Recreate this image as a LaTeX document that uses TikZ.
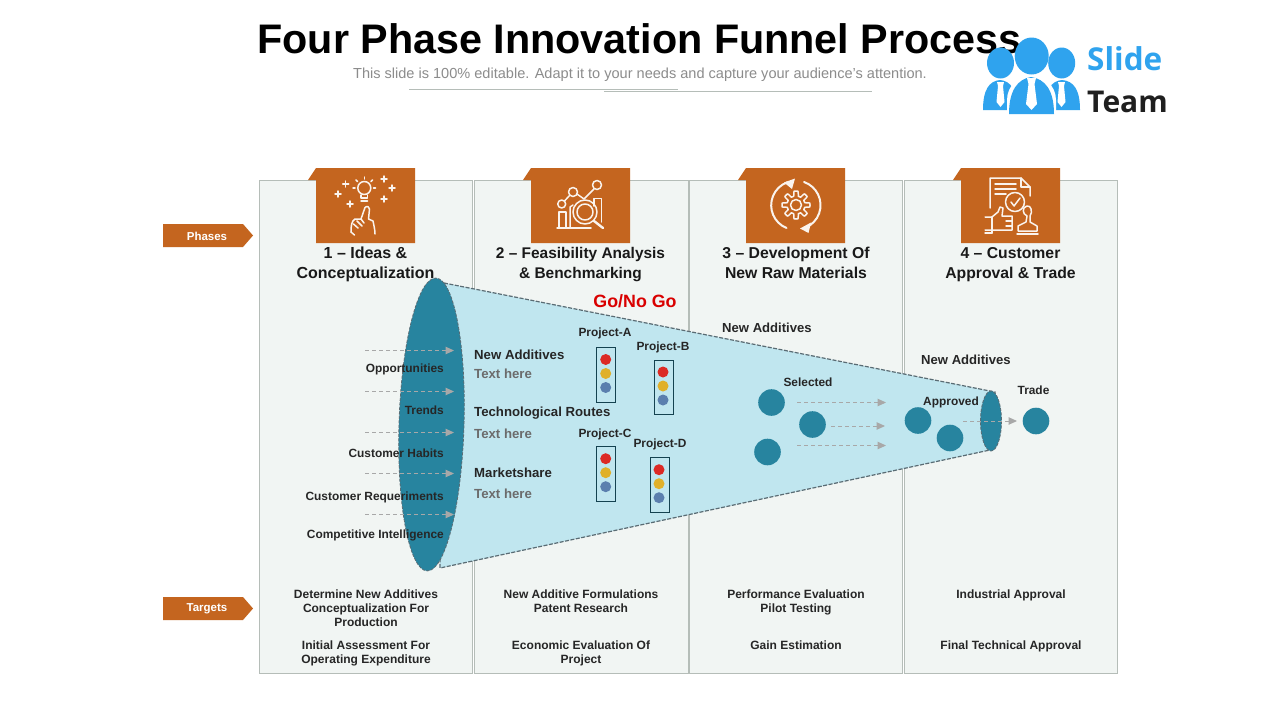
\documentclass[tikz,border=0pt]{standalone}
\usepackage{fontspec}
\setmainfont{Liberation Sans}
\newfontfamily\logofont{Open Sans}
\usetikzlibrary{arrows.meta,shapes.geometric,shapes.arrows}
\definecolor{rust}{HTML}{C4651F}
\definecolor{panelfill}{HTML}{F1F5F3}
\definecolor{panelline}{HTML}{B5BDB8}
\definecolor{funnelfill}{HTML}{C0E6EF}
\definecolor{teal}{HTML}{27849F}
\definecolor{flowgrey}{HTML}{A8A8A8}
\definecolor{edgegrey}{HTML}{5A6C74}
\definecolor{lampred}{HTML}{DC2A25}
\definecolor{lampyel}{HTML}{E0B02A}
\definecolor{lampblu}{HTML}{5B7FAE}
\definecolor{logoblue}{HTML}{2FA3EE}
\newcommand{\fs}[1]{\fontsize{#1}{#1}\selectfont}
\newcommand{\htop}{\rule{0pt}{12pt}}
\newcommand{\hbot}{\rule[-3.5pt]{0pt}{3.5pt}}
\tikzset{
  x=1pt,y=-1pt,
  panel/.style={fill=panelfill,draw=panelline,line width=1pt},
  tabfill/.style={fill=rust,draw=none},
  iconline/.style={draw=white!92!rust,line width=1.5pt,line cap=round,line join=round},
  iconfill/.style={fill=white!92!rust,draw=none},
  headtext/.style={font=\fs{15.75}\bfseries,align=center,text=black!90,inner sep=0pt},
  smalltext/.style={font=\fs{11.9}\bfseries,text=black!85,inner sep=0pt,yshift=-1pt},
  widetext/.style={font=\fs{13.1}\bfseries,text=black!85,inner sep=0pt,yshift=-0.5pt,anchor=west},
  lefttext/.style={smalltext,anchor=east},
  itemhead/.style={font=\fs{13.2}\bfseries,text=black!85,inner sep=0pt,anchor=west},
  itemsub/.style={font=\fs{13.2}\bfseries,text=black!58,inner sep=0pt,anchor=west},
  bottomtext/.style={font=\fs{12}\bfseries,text=black!85,align=center,inner sep=0pt,yshift=-0.7pt},
  flow/.style={draw=flowgrey,line width=1pt,dash pattern=on 4pt off 3pt,-{Triangle[length=8.5pt,width=7.5pt,fill=flowgrey]}},
  dot/.style={circle,fill=teal,draw=none,minimum size=26.6pt,inner sep=0pt},
  lampbox/.style={draw=teal!50!black,line width=1pt,fill=none,minimum width=19pt,minimum height=54.5pt,inner sep=0pt},
  lamp/.style={circle,minimum size=11pt,inner sep=0pt,draw=none},
  tag/.style={fill=rust,draw=none},
  tagtext/.style={font=\fs{11.5}\bfseries,text=white,inner sep=0pt},
  funnel/.style={fill=funnelfill,draw=edgegrey,line width=1.2pt,dash pattern=on 4pt off 1.5pt},
  mouth/.style={fill=teal,draw=edgegrey,line width=0.8pt,dash pattern=on 3pt off 1.5pt},
}
\begin{document}
\begin{tikzpicture}
\useasboundingbox[fill=white] (0,0) rectangle (1280,720);
% title
\node[font=\fs{41.3}\bfseries,text=black,inner sep=0pt] (title) at (639.5,39) {Four Phase Innovation Funnel Process};
\node[font=\fs{14.55},text=black!45,inner sep=0pt] (subtitle) at (640,75) {This slide is 100\% editable. Adapt it to your needs and capture your audience's attention.};
\draw[panelline,line width=0.7pt] (409,89) -- (678,89);
\draw[panelline,line width=0.7pt] (604,91) -- (872,91);
% logo
\fill[logoblue] (1000.5,63) ellipse [x radius=13.5,y radius=15.5];
\fill[logoblue] (1061.7,63) ellipse [x radius=13.5,y radius=15.5];
\fill[logoblue] (983,110) .. controls (983,90) and (989,81) .. (1000,80) .. controls (1011,81) and (1017,90) .. (1017,110) -- cycle;
\fill[logoblue] (1080,110) .. controls (1080,90) and (1074,81) .. (1062,80) .. controls (1051,81) and (1045,90) .. (1045,110) -- cycle;
\fill[white] (1007,115) -- (1007,100) .. controls (1007,85) and (1020,75) .. (1031,75) .. controls (1043,75) and (1056,85) .. (1056,100) -- (1056,115) -- cycle;
\fill[logoblue] (1031.7,56) ellipse [x radius=17,y radius=18.5];
\fill[logoblue] (1009,114) .. controls (1009,90) and (1018,79) .. (1031,77) .. controls (1045,79) and (1054,90) .. (1054,114) -- cycle;
\fill[white] (997,82) -- (1004,82) -- (1003,86) -- (1004.5,102) -- (1000.5,107) -- (996.5,102) -- (998,86) -- cycle;
\fill[white] (1058,82) -- (1065,82) -- (1064,86) -- (1065.5,102) -- (1061.5,107) -- (1057.5,102) -- (1059,86) -- cycle;
\fill[white] (1027,78) -- (1036,78) -- (1034.5,84) -- (1037,104) -- (1031.5,110) -- (1026,104) -- (1028.5,84) -- cycle;
\node[font=\logofont\fs{31.5}\bfseries,text=logoblue,inner sep=0pt,anchor=west] (slide) at (1087,59) {Slide};
\node[font=\logofont\fs{30}\bfseries,text=black!88,inner sep=0pt,anchor=west] (team) at (1087,102) {Team};
% panels
\draw[panel] (259.5,180.5) rectangle (472.5,673);
\draw[panel] (474.5,180.5) rectangle (688,673);
\draw[panel] (689.5,180.5) rectangle (902.5,673);
\draw[panel] (904.5,180.5) rectangle (1117.5,673);
% tabs
\foreach \x in {316,531,746,961}{
  \fill[tabfill] (\x-8,180) -- (\x,168) -- (\x+99,168) -- (\x+99,243) -- (\x,243) -- (\x,180) -- cycle;
}
% icon 1
\begin{scope}[iconline]
\draw (364.3,188) circle[radius=6.5];
\draw (361,195) -- (361,198) -- (367.5,198) -- (367.5,195);
\draw (361,201) -- (367.5,201);
\foreach \a/\b/\c/\d in {364.3/177/364.3/179,353/188/355/188,375.5/188/373.5/188,356/180/357.5/181.5,372.5/180/371/181.5}{\draw (\a,\b) -- (\c,\d);}
\foreach \p/\q in {345.7/184,338/194,350/204,384/179,392/188,384/199}{
  \draw (\p-3,\q) -- (\p+3,\q); \draw (\p,\q-3) -- (\p,\q+3);
}
\draw (361,219) -- (365,207.5) .. controls (367,205.5) and (369.5,206.5) .. (369.5,209) -- (368.5,219) -- (373,221) .. controls (374,226) and (375,230) .. (375,234);
\draw (351,232) .. controls (351,226) and (351.5,221) .. (355,219) -- (361,219) -- (364,223);
\draw (353.5,224) -- (358,228);
\draw (357,221) -- (362,226);
\draw (351,232) -- (354.5,235);
\end{scope}
% icon 2
\begin{scope}[iconline]
\draw (561.7,204) circle[radius=4];
\draw (573,192) circle[radius=4.5];
\draw (597,185) circle[radius=4.5];
\draw (564.5,201) -- (570,195);
\draw (577,194) -- (584,199) -- (594,189);
\draw (557,228) -- (591,228);
\draw (559,228) -- (559,212) -- (566,212) -- (566,228);
\draw (570,228) -- (570,207) -- (573,205);
\draw (594,206) -- (594,198.5) -- (601.5,198.5) -- (601.5,222);
\draw (585,212) circle[radius=12];
\draw (585,212) circle[radius=8];
\draw[line width=2.4pt] (594,221) -- (603,228);
\end{scope}
% icon 3
\begin{scope}[iconline,line width=2pt]
\draw[line width=1.5pt] (796,205) circle[radius=5.5];
\draw[line width=1.5pt] plot[domain=0:360,samples=193,variable=\t] ({796+(11.5+2.5*max(min(2.5*cos(8*\t),1),-1))*cos(\t)},{205+(11.5+2.5*max(min(2.5*cos(8*\t),1),-1))*sin(\t)}) -- cycle;
\draw (786.5,228) arc[start angle=112,end angle=250,radius=24.5];
\draw (804,182) arc[start angle=-71,end angle=68,radius=24.5];
\end{scope}
\fill[iconfill] (784,182.5) -- (795,178.5) -- (792,189) -- cycle;
\fill[iconfill] (800,228.5) -- (811,222.5) -- (808.5,233) -- cycle;
% icon 4
\begin{scope}[iconline]
\draw (990,208) -- (990,178) -- (1021,178) -- (1030,187) -- (1030,196);
\draw (1021,178) -- (1021,187) -- (1030,187);
\draw (995,184) -- (1016,184);
\draw (995,189) -- (1016,189);
\draw (995,194) -- (1006,194);
\draw (1015,202) circle[radius=9.5];
\draw (1011,202) -- (1014,206) -- (1020,198);
\draw (985,217) -- (992,217) -- (998,212) -- (1000,207) -- (1003,208) -- (1002,216) -- (1012,216) -- (1012,230) -- (992,230) -- (985,230);
\draw (992,217) -- (992,233);
\draw (985,233) -- (992,233);
\draw (1006,221) -- (1012,221);
\draw (1006,226) -- (1012,226);
\draw (1027,216) .. controls (1022,214) and (1022,207) .. (1027,206) .. controls (1031,205) and (1033,212) .. (1030,216) -- (1030,222) -- (1037,226) -- (1037,231) -- (1018,231) -- (1018,226) -- (1026,222) -- cycle;
\draw (1017,234) -- (1038,234);
\end{scope}
% headings
\node[headtext,font=\fs{16}\bfseries] (h1) at (365.5,264.3) {\htop 1 -- Ideas \&\\[3.2pt]Conceptualization\hbot};
\node[headtext,font=\fs{15.45}\bfseries] (h2) at (580.5,264.3) {\htop 2 -- Feasibility Analysis\\[3.7pt]\& Benchmarking\hbot};
\node[headtext] (h3) at (796,264.3) {\htop 3 -- Development Of\\[3.4pt]New Raw Materials\hbot};
\node[headtext] (h4) at (1010.5,264.3) {\htop 4 -- Customer\\[3.4pt]Approval \& Trade\hbot};
% phase tags
\fill[tag] (163,224) -- (243,224) -- (253,235.5) -- (243,247) -- (163,247) -- cycle;
\node[tagtext] (phases) at (207,236) {Phases};
\fill[tag] (163,597) -- (243,597) -- (253,608.5) -- (243,620) -- (163,620) -- cycle;
\node[tagtext] (targets) at (207,609) {Targets};
% funnel
\draw[funnel] (444,283) -- (995,392) -- (990,450) -- (440,568) -- cycle;
\draw[mouth] (431.5,424.5) ellipse [x radius=32.5,y radius=146.5,rotate=-1.7];
\draw[mouth] (991,421) ellipse [x radius=10.5,y radius=30];
% left labels
\node[lefttext] (l1) at (444,368) {Opportunities};
\node[lefttext] (l2) at (444,409.5) {Trends};
\node[lefttext] (l3) at (444,452) {Customer Habits};
\node[lefttext] (l4) at (444,496) {Customer Requeriments};
\node[lefttext] (l5) at (444,534) {Competitive Intelligence};
% left flows
\foreach \n/\y in {a/350.5,b/391.5,c/432.5,d/473.5,e/514.5}{
  \coordinate (s\n) at (365,\y);
  \coordinate (t\n) at (454,\y);
  \draw[flow] (s\n) -- (t\n);
}
% items
\node[itemhead] (i1) at (474,354.5) {New Additives};
\node[itemsub] (i1s) at (474,373.5) {Text here};
\node[itemhead] (i2) at (474,413.5) {Technological Routes};
\node[itemsub] (i2s) at (474,433.5) {Text here};
\node[itemhead] (i3) at (474,473) {Marketshare};
\node[itemsub] (i3s) at (474,493.5) {Text here};
\node[font=\fs{17.8}\bfseries,text=red!85!black,inner sep=0pt] (gng) at (635,301) {Go/No Go};
% traffic lights
\foreach \n/\x/\y/\t/\lx/\ly in {A/606.2/375/Project-A/605/332,B/663.5/387.5/Project-B/663/346,C/606.2/474.2/Project-C/605/433,D/659.5/485.2/Project-D/660/443}{
  \node[lampbox] (box\n) at (\x,\y) {};
  \node[lamp,fill=lampred] (r\n) at (\x-0.5,\y-15.5) {};
  \node[lamp,fill=lampyel] (y\n) at (\x-0.5,\y-1.5) {};
  \node[lamp,fill=lampblu] (b\n) at (\x-0.5,\y+12.5) {};
  \node[smalltext] (lab\n) at (\lx,\ly) {\t};
}
% dots
\node[dot] (d1) at (771.5,402.5) {};
\node[dot] (d2) at (812.5,424.5) {};
\node[dot] (d3) at (767.5,452) {};
\node[dot] (d4) at (918,420.5) {};
\node[dot] (d5) at (950,438) {};
\node[dot] (d6) at (1036,421) {};
\coordinate (e1) at (886,402.5);
\coordinate (e2) at (885,426);
\coordinate (e3) at (886,445.5);
\coordinate (b1) at (797,402.5);
\coordinate (b2) at (831,426);
\coordinate (b3) at (797,445.5);
\coordinate (b4) at (963,421);
\coordinate (e4) at (1017,421);
\draw[flow] (b1) -- (e1);
\draw[flow] (b2) -- (e2);
\draw[flow] (b3) -- (e3);
\draw[flow] (b4) -- (e4);
\node[widetext] (na2) at (722,327) {New Additives};
\node[widetext] (na3) at (921,359.5) {New Additives};
\node[smalltext] (sel) at (808,381.5) {Selected};
\node[smalltext] (app) at (951,401) {Approved};
\node[smalltext] (tra) at (1033.5,389.5) {Trade};
% bottom
\node[bottomtext] (t1) at (366,607.5) {Determine New Additives\\[2pt]Conceptualization For\\[2pt]Production};
\node[bottomtext] (t2) at (366,652.7) {Initial Assessment For\\[2pt]Operating Expenditure};
\node[bottomtext] (t3) at (581,601) {New Additive Formulations\\[2pt]Patent Research};
\node[bottomtext] (t4) at (581,652.7) {Economic Evaluation Of\\[2pt]Project};
\node[bottomtext] (t5) at (796,602) {Performance Evaluation\\[2pt]Pilot Testing};
\node[bottomtext] (t6) at (796,645) {Gain Estimation};
\node[bottomtext] (t7) at (1011,595) {Industrial Approval};
\node[bottomtext] (t8) at (1011,646) {Final Technical Approval};
\end{tikzpicture}
\end{document}
